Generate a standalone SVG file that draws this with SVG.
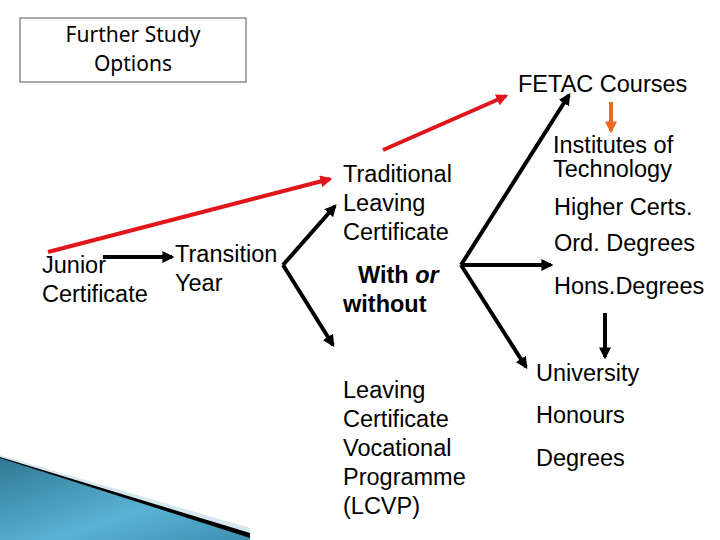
<svg xmlns="http://www.w3.org/2000/svg" width="720" height="540" viewBox="0 0 720 540">
<defs>
<style>
.t{font-family:"Liberation Sans",Arial,sans-serif;font-size:23.5px;fill:#000}
.b{font-weight:bold}
.k{stroke:#000;stroke-width:4;fill:none}
.r{stroke:#e0161b;stroke-width:4;fill:none}
.o{stroke:#ee6a1f;stroke-width:4;fill:none}
</style>
<marker id="ak" viewBox="0 0 10 10" refX="8" refY="5" markerWidth="3" markerHeight="3" orient="auto"><path d="M0,0L10,5L0,10z" fill="#000"/></marker>
<marker id="ar" viewBox="0 0 10 10" refX="8" refY="5" markerWidth="3" markerHeight="3" orient="auto"><path d="M0,0L10,5L0,10z" fill="#e0161b"/></marker>
<marker id="ao" viewBox="0 0 10 10" refX="8" refY="5" markerWidth="3" markerHeight="3" orient="auto"><path d="M0,0L10,5L0,10z" fill="#ee6a1f"/></marker>
<linearGradient id="bg" x1="0" y1="0" x2="1" y2="1"><stop offset="0" stop-color="#2f7894"/><stop offset="0.6" stop-color="#5ab3d3"/><stop offset="1" stop-color="#3d8fb0"/></linearGradient>
</defs>
<rect width="720" height="540" fill="#fff"/>
<polygon points="0,455 250,528 250,540 0,540" fill="#d6e8ef"/>
<polygon points="0,457 250,533 250,540 0,540" fill="#000"/>
<polygon points="0,458 250,538 250,540 0,540" fill="url(#bg)"/>
<g id="title"><rect x="20" y="18" width="226" height="64" fill="#fff" stroke="#555" stroke-width="1"/>
<text x="133" y="42" text-anchor="middle" style="font-family:'Noto Sans',sans-serif;font-size:21px">Further Study</text>
<text x="133" y="71" text-anchor="middle" style="font-family:'Noto Sans',sans-serif;font-size:21px">Options</text></g>
<g id="connectors">
<line class="r" x1="48" y1="252" x2="330" y2="179" marker-end="url(#ar)"/>
<line class="r" x1="383" y1="150" x2="506" y2="96" marker-end="url(#ar)"/>
<line class="k" x1="103" y1="257" x2="172" y2="257" marker-end="url(#ak)"/>
<line class="k" x1="283" y1="265" x2="333" y2="345" marker-end="url(#ak)"/>
<line class="k" x1="283" y1="265" x2="335" y2="206" marker-end="url(#ak)"/>
<line class="k" x1="461" y1="265" x2="569" y2="95" marker-end="url(#ak)"/>
<line class="k" x1="461" y1="265" x2="551" y2="265" marker-end="url(#ak)"/>
<line class="k" x1="461" y1="265" x2="526" y2="367" marker-end="url(#ak)"/>
<line class="o" x1="611" y1="102" x2="611" y2="131" marker-end="url(#ao)"/>
<line class="k" x1="605" y1="313" x2="605" y2="357" marker-end="url(#ak)"/>
</g>
<g id="junior"><text class="t" x="42" y="273">Junior</text><text class="t" x="42" y="302">Certificate</text></g>
<g id="transition"><text class="t" x="175" y="262">Transition</text><text class="t" x="175" y="291">Year</text></g>
<g id="traditional"><text class="t" x="343" y="182">Traditional</text><text class="t" x="343" y="211">Leaving</text><text class="t" x="343" y="240">Certificate</text>
<text class="t b" x="358" y="283">With <tspan font-style="italic">or</tspan></text><text class="t b" x="343" y="312">without</text></g>
<g id="lcvp"><text class="t" x="343" y="398">Leaving</text><text class="t" x="343" y="427">Certificate</text><text class="t" x="343" y="456">Vocational</text><text class="t" x="343" y="485">Programme</text><text class="t" x="343" y="514">(LCVP)</text></g>
<g id="fetac"><text class="t" x="518" y="92">FETAC Courses</text></g>
<g id="it"><text class="t" x="553" y="153">Institutes of</text><text class="t" x="553" y="177">Technology</text>
<text class="t" x="554" y="215">Higher Certs.</text><text class="t" x="554" y="251">Ord. Degrees</text><text class="t" x="554" y="294">Hons.Degrees</text></g>
<g id="university"><text class="t" x="536" y="381">University</text><text class="t" x="536" y="423">Honours</text><text class="t" x="536" y="466">Degrees</text></g>
</svg>
